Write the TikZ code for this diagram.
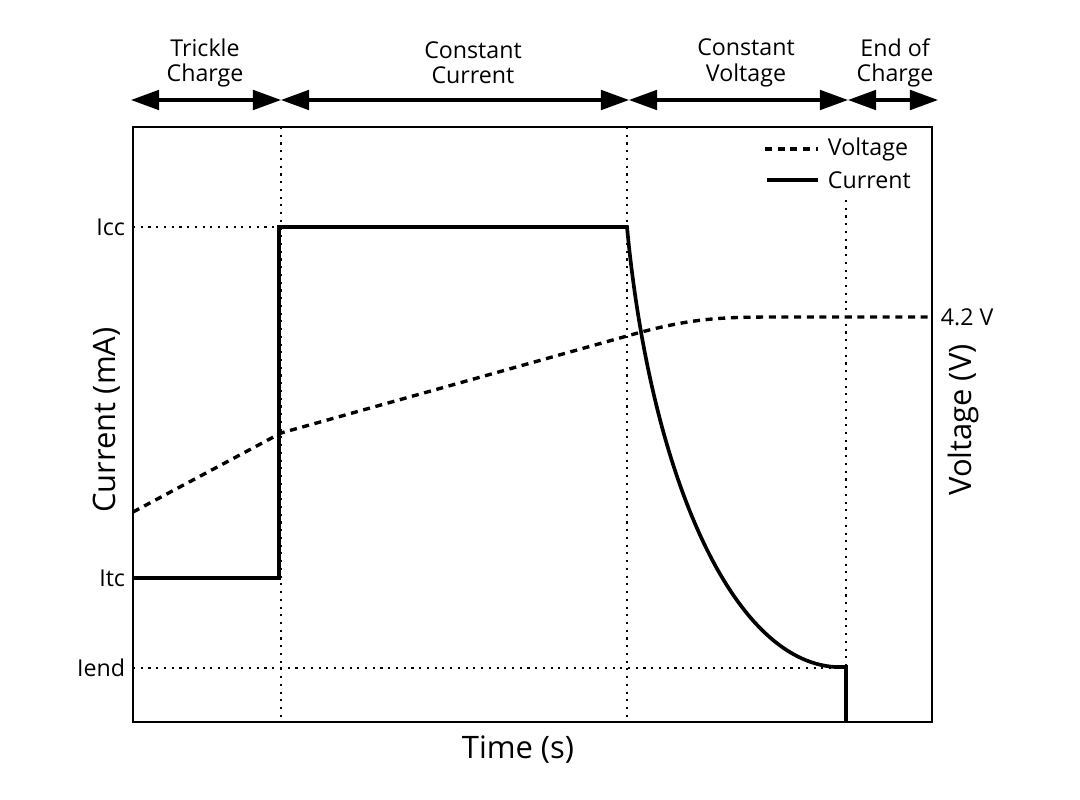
\documentclass[tikz,border=0pt]{standalone}
\usepackage{fontspec}
\setmainfont{Open Sans}
\usetikzlibrary{arrows.meta}
\begin{document}
\begin{tikzpicture}[x=0.025cm,y=-0.025cm,
  lbl/.style={font=\fontsize{16.5}{18}\selectfont, align=center},
  ax/.style={font=\fontsize{22}{24}\selectfont},
  grid/.style={dash pattern=on 1.5pt off 4pt, line width=1.1pt},
  phase/.style={line width=2.2pt, {Triangle[length=20pt,width=14pt]}-{Triangle[length=20pt,width=14pt]}},
  cur/.style={line width=2.6pt},
  volt/.style={line width=2.4pt, dash pattern=on 5pt off 4pt}]
\useasboundingbox (0,0) rectangle (1080,800);
% frame
\draw[line width=1.1pt] (133,127) rectangle (932,722);
% grid lines
\coordinate (t1) at (281,127); \coordinate (b1) at (281,722);
\coordinate (t2) at (627,127); \coordinate (b2) at (627,722);
\coordinate (t3) at (846,200); \coordinate (b3) at (846,668);
\draw[grid] (t1) -- (b1);
\draw[grid] (t2) -- (b2);
\draw[grid] (t3) -- (b3);
\coordinate (icc) at (133,227); \coordinate (iend) at (133,668);
\draw[grid] (icc) -- (281,227);
\draw[grid] (iend) -- (846,668);
% phase arrows
\coordinate (p0) at (131,100); \coordinate (p1) at (281,100);
\coordinate (p2) at (629,100); \coordinate (p3) at (848,100);
\coordinate (p4) at (938,100);
\draw[phase] (p0) -- (p1);
\draw[phase] (p1) -- (p2);
\draw[phase] (p2) -- (p3);
\draw[phase] (p3) -- (p4);
\node[lbl] (n1) at (205,63) {Trickle\\Charge};
\node[lbl] (n2) at (473,63) {Constant\\Current};
\node[lbl] (n3) at (746,63) {Constant\\Voltage};
\node[lbl] (n4) at (895,63) {End of\\Charge};
% current
\draw[cur, line join=miter] (133,578) -- (279,578) -- (279,227) -- (627,227)
  .. controls (650,470) and (730,660) .. (835,667) -- (846,667) -- (846,722);
% voltage
\draw[volt] (133,512) -- (281,433) -- (627,336)
  .. controls (690,318) and (720,317) .. (780,317) -- (932,317);
% tick labels
\node[lbl, anchor=east] (Icc) at (130,227) {Icc};
\node[lbl, anchor=east] (Itc) at (130,578) {Itc};
\node[lbl, anchor=east] (Iend) at (130,668) {Iend};
\node[lbl, anchor=west] (v42) at (936,317) {4.2 V};
% axis labels
\node[ax, rotate=90] (yl) at (107,420) {Current (mA)};
\node[ax, rotate=90] (yr) at (963,420) {Voltage (V)};
\node[ax] (xl) at (518,750) {Time (s)};
% legend
\coordinate (l1a) at (765,149); \coordinate (l1b) at (818,149);
\coordinate (l2a) at (767,180); \coordinate (l2b) at (818,180);
\draw[volt] (l1a) -- (l1b);
\draw[cur] (l2a) -- (l2b);
\node[lbl, anchor=west] (lv) at (823,149) {Voltage};
\node[lbl, anchor=west] (lc) at (823,180) {Current};
\end{tikzpicture}
\end{document}
